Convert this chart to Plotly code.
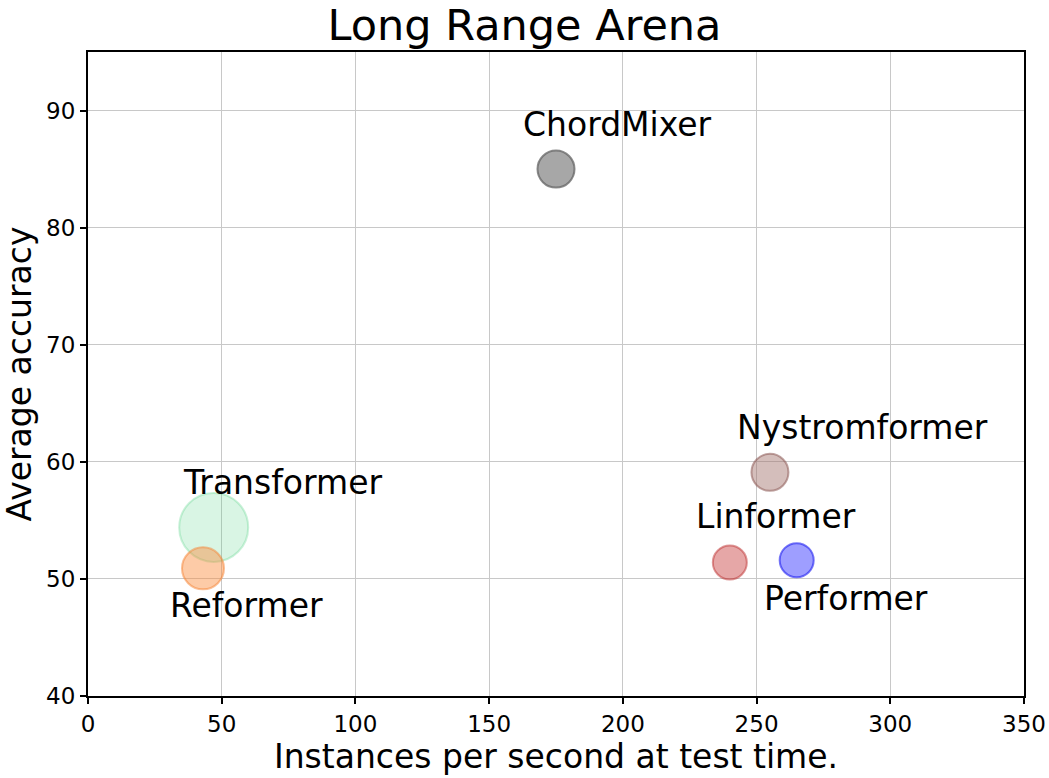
import plotly.graph_objects as go

models = ["ChordMixer", "Nystromformer", "Linformer", "Performer", "Transformer", "Reformer"]
speed = [175, 255, 240, 265, 47, 43]
accuracy = [85.0, 59.1, 51.4, 51.6, 54.4, 50.9]
marker_size = [37, 37, 34, 34, 69, 42]
fill_colors = ["rgba(120,120,120,0.65)", "rgba(160,110,105,0.45)", "rgba(200,60,60,0.45)",
               "rgba(40,40,255,0.45)", "rgba(80,210,130,0.22)", "rgba(250,140,60,0.45)"]
line_colors = ["rgba(100,100,100,0.75)", "rgba(140,90,85,0.55)", "rgba(190,50,50,0.5)",
               "rgba(30,30,240,0.6)", "rgba(80,210,130,0.3)", "rgba(245,130,50,0.5)"]
label_dx = [61, 93, 46, 49, 69, 44]
label_dy = [45, 45, 46, -38, 45, -37]

x_ticks = [0, 50, 100, 150, 200, 250, 300, 350]
y_ticks = [40, 50, 60, 70, 80, 90]

FONT = "DejaVu Sans"

fig = go.Figure()
for i, m in enumerate(models):
    fig.add_trace(go.Scatter(
        x=[speed[i]], y=[accuracy[i]], mode="markers", name=m,
        marker=dict(size=marker_size[i], color=fill_colors[i],
                    line=dict(color=line_colors[i], width=2)),
        showlegend=False, hoverinfo="text", text=[m]))
    fig.add_annotation(x=speed[i], y=accuracy[i], text=m, showarrow=False,
                       xshift=label_dx[i], yshift=label_dy[i],
                       font=dict(size=33, color="black", family=FONT))

axis_common = dict(showline=True, linecolor="black", linewidth=2, mirror=True,
                   ticks="outside", ticklen=6, tickwidth=1.5, tickcolor="black",
                   showgrid=True, gridcolor="#c8c8c8", gridwidth=1, zeroline=False,
                   automargin=False,
                   tickfont=dict(size=23, family=FONT, color="black"))

fig.update_layout(
    width=1049, height=778,
    paper_bgcolor="white", plot_bgcolor="white",
    margin=dict(l=88, r=25, t=52, b=82, autoexpand=False),
    title=dict(text="Long Range Arena", x=0.5, xanchor="center", y=0.968, yanchor="middle",
               automargin=False,
               font=dict(size=43, family=FONT, color="black")),
    xaxis=dict(range=[0, 350], tickvals=x_ticks, title=dict(text="Instances per second at test time.",
               font=dict(size=33, family=FONT, color="black"), standoff=2), **axis_common),
    yaxis=dict(range=[40, 95], tickvals=y_ticks, title=dict(text="Average accuracy",
               font=dict(size=33, family=FONT, color="black"), standoff=15), **axis_common),
)

fig.write_html("out.html", config={"displayModeBar": False},
               post_script="document.body.style.margin='0';document.body.style.overflow='hidden';")
